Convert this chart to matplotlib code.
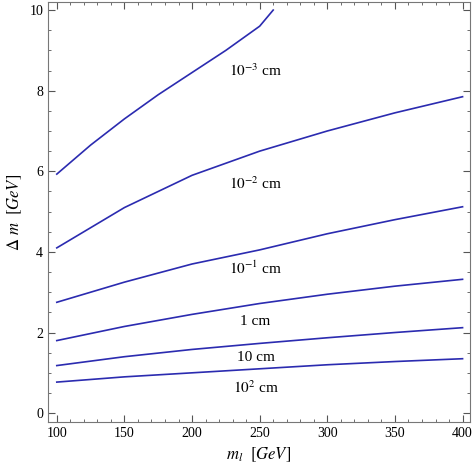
import matplotlib
matplotlib.use("Agg")
import matplotlib.pyplot as plt

plt.rcParams['font.family'] = ['Liberation Serif', 'DejaVu Serif']
plt.rcParams['mathtext.fontset'] = 'stix'

m_short = [100, 125, 150, 175, 200, 225, 250, 260]
dm_1e3 = [5.93, 6.65, 7.3, 7.9, 8.45, 9.0, 9.6, 10.0]

m = [100, 150, 200, 250, 300, 350, 400]
dm_1e2 = [4.1, 5.1, 5.9, 6.5, 7.0, 7.45, 7.85]
dm_1e1 = [2.75, 3.25, 3.7, 4.05, 4.45, 4.8, 5.12]
dm_1 = [1.8, 2.15, 2.45, 2.72, 2.95, 3.15, 3.32]
dm_10 = [1.18, 1.4, 1.58, 1.73, 1.87, 2.0, 2.12]
dm_100 = [0.77, 0.9, 1.0, 1.1, 1.2, 1.28, 1.35]

labels = [r'$10^{-3}$ cm', r'$10^{-2}$ cm', r'$10^{-1}$ cm', '1 cm', '10 cm', r'$10^{2}$ cm']
label_y = [8.5, 5.7, 3.6, 2.28, 1.39, 0.62]
label_x = 247

fig = plt.figure(figsize=(4.74, 4.74), dpi=100)
ax = fig.add_axes([48/474, 52/474, 422/474, 420/474])
col = '#2b2bb0'
ax.plot(m_short, dm_1e3, color=col, lw=1.2)
for d in [dm_1e2, dm_1e1, dm_1, dm_10, dm_100]:
    ax.plot(m, d, color=col, lw=1.2)
for t, yv in zip(labels, label_y):
    ax.text(label_x, yv, t, ha='center', va='center', fontsize=11)

ax.set_xlim(93.5, 405.5)
ax.set_ylim(-0.22, 10.2)
ax.set_xticks([100, 150, 200, 250, 300, 350, 400])
ax.set_yticks([0, 2, 4, 6, 8, 10])
ax.set_xticks(range(100, 401, 10), minor=True)
ax.set_yticks([x * 0.5 for x in range(0, 21)], minor=True)
ax.tick_params(which='both', direction='in', top=True, right=True, labelsize=10, colors='#555555', labelcolor='black')
ax.tick_params(which='major', length=5)
ax.tick_params(which='minor', length=2.5)
for s in ax.spines.values():
    s.set_color('#777777')
ax.set_xlabel(r'$m_l\ \ [GeV]$', fontsize=12)
ax.set_ylabel(r'$\Delta\ m\ \ [GeV]$', fontsize=12)
fig.savefig('out.png', dpi=100)
